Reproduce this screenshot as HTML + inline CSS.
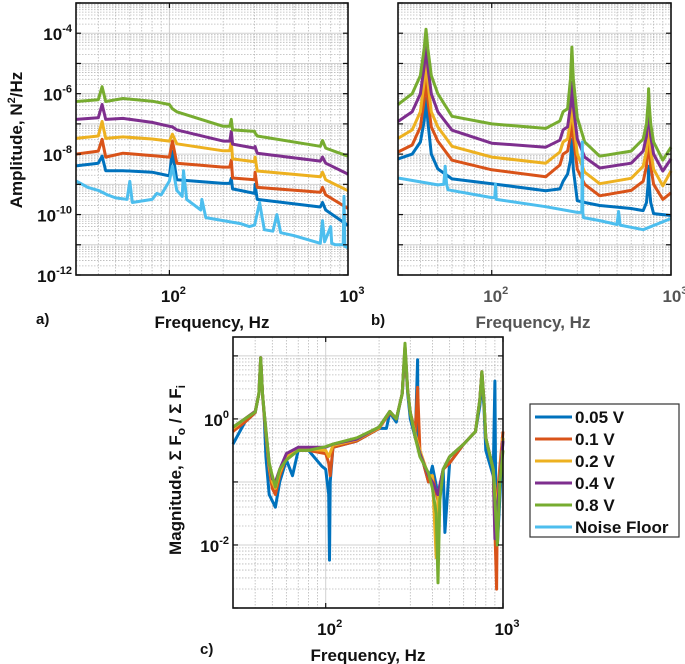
<!DOCTYPE html>
<html><head><meta charset="utf-8"><style>
body{margin:0;background:#fff}
svg{display:block}
text{font-family:"Liberation Sans",sans-serif;font-weight:bold;fill:#111}
</style></head><body>
<svg id="fig" width="685" height="664" viewBox="0 0 685 664">
<g id="gridlayer"></g>
<g id="datalayer"></g>
<g id="axlayer"></g>
<text x="22" y="140" font-size="17" text-anchor="middle" transform="rotate(-90 22 140)">Amplitude, N<tspan dy="-7" font-size="11">2</tspan><tspan dy="7">/Hz</tspan></text>
<text x="212" y="328" font-size="17" text-anchor="middle">Frequency, Hz</text>
<text x="533" y="328" font-size="17" text-anchor="middle" style="fill:#555">Frequency, Hz</text>
<text x="368" y="661" font-size="17" text-anchor="middle">Frequency, Hz</text>
<text x="36" y="324" font-size="15">a)</text>
<text x="371" y="325" font-size="15">b)</text>
<text x="200" y="654" font-size="15">c)</text>
<text x="181" y="470" font-size="17" text-anchor="middle" transform="rotate(-90 181 470)">Magnitude, Σ F<tspan dy="4" font-size="12">o</tspan><tspan dy="-4"> / Σ F</tspan><tspan dy="4" font-size="12">i</tspan></text>
<g>
<rect x="530" y="404" width="149" height="133" fill="#fff" stroke="#333" stroke-width="1.2"/>
<g id="legrows"></g>
</g>
</svg>
<script>
// ---------- data (frequencies in Hz, values as log10) ----------
const colors=["#0072BD","#D95319","#EDB120","#7E2F8E","#77AC30","#4DBEEE"];
const seriesNames=["0.05 V","0.1 V","0.2 V","0.4 V","0.8 V","Noise Floor"];
// Panel a: PSD log10 amplitude
const aBlueF=[30,40,42,44,55,80,100,104,110,200,218,222,226,300,302,310,700,720,750,1000];
const aBlueV=[-8.39,-8.3,-8.07,-8.55,-8.55,-8.6,-8.72,-7.9,-8.85,-8.97,-8.97,-8.8,-9.15,-9.3,-9.0,-9.5,-9.75,-9.6,-9.85,-10.36];
const aOrangeF=[30,40,42,44,55,80,100,104,110,200,218,222,226,300,302,310,700,720,750,1000];
const aOrangeV=[-8.0,-7.9,-7.51,-8.1,-7.97,-8.05,-8.1,-7.57,-8.3,-8.43,-8.43,-8.2,-8.79,-8.85,-8.6,-9.1,-9.26,-9.1,-9.35,-9.8];
const aYellowF=[30,40,42,44,55,80,100,104,110,200,218,222,226,300,302,310,700,720,750,1000];
const aYellowV=[-7.48,-7.4,-6.92,-7.48,-7.43,-7.5,-7.57,-7.34,-7.66,-7.89,-7.89,-7.6,-8.16,-8.25,-8.1,-8.56,-8.75,-8.6,-8.85,-9.21];
const aPurpleF=[30,40,42,44,55,80,100,104,110,200,218,222,226,300,302,310,700,720,750,1000];
const aPurpleV=[-6.85,-6.8,-6.36,-6.85,-6.82,-6.95,-7.08,-7.1,-7.2,-7.57,-7.57,-7.25,-7.67,-7.8,-7.75,-7.97,-8.23,-8.1,-8.3,-8.66];
const aGreenF=[30,40,42,44,55,80,100,104,110,200,218,222,226,300,302,310,700,720,750,1000];
const aGreenV=[-6.26,-6.2,-5.77,-6.26,-6.16,-6.25,-6.36,-6.5,-6.6,-7.08,-7.08,-6.85,-7.2,-7.25,-7.3,-7.4,-7.74,-7.55,-7.8,-8.07];
const aNoiseF=[30,35,40,45,50,58,60,62,70,80,85,90,100,104,110,118,120,125,150,152,160,200,250,280,300,320,340,380,400,420,500,700,720,740,800,810,850,940,950,960,1000];
const aNoiseV=[-8.89,-9.1,-9.2,-9.35,-9.45,-9.5,-8.9,-9.6,-9.55,-9.5,-9.3,-9.35,-8.89,-8.4,-9.2,-9.4,-8.55,-9.5,-9.85,-9.5,-10.1,-10.2,-10.3,-10.4,-10.35,-9.6,-10.5,-10.55,-10.0,-10.6,-10.7,-10.95,-10.2,-10.9,-10.4,-10.95,-11.0,-11.0,-9.4,-11.05,-11.1];
// Panel b: PSD log10 amplitude
const bFreq=[30,36,40,42,43,44,46,50,60,100,200,240,250,265,275,280,285,300,330,400,600,700,730,745,750,755,770,800,900,1000];
const bBlueV=[-8.16,-8.0,-7.6,-6.9,-6.16,-6.9,-8.0,-8.49,-8.82,-8.98,-9.21,-9.15,-8.9,-8.66,-8.2,-7.52,-8.5,-9.54,-9.6,-9.7,-9.8,-9.87,-9.6,-9.0,-8.4,-9.0,-9.6,-9.97,-10.0,-10.03];
const bOrangeV=[-7.93,-7.7,-7.1,-6.2,-5.44,-6.2,-7.1,-7.57,-8.2,-8.52,-8.75,-8.36,-8.0,-7.9,-7.4,-6.75,-7.4,-8.5,-9.0,-9.38,-9.2,-8.9,-8.4,-7.7,-7.0,-7.7,-8.4,-9.0,-9.5,-9.28];
const bYellowV=[-7.48,-7.2,-6.6,-5.6,-4.85,-5.6,-6.6,-7.1,-7.74,-8.1,-8.3,-7.93,-7.6,-7.5,-6.9,-6.2,-6.9,-8.0,-8.6,-8.98,-8.8,-8.4,-7.9,-7.2,-6.57,-7.2,-7.9,-8.5,-9.05,-8.56];
const bPurpleV=[-6.92,-6.6,-6.0,-5.1,-4.39,-5.1,-6.0,-6.6,-7.21,-7.64,-7.77,-7.54,-7.2,-7.1,-6.4,-5.62,-6.4,-7.5,-8.1,-8.46,-8.3,-7.9,-7.4,-6.7,-6.0,-6.7,-7.4,-8.0,-8.56,-8.16];
const bGreenV=[-6.36,-6.0,-5.4,-4.5,-3.87,-4.5,-5.4,-6.0,-6.75,-7.0,-7.15,-6.9,-6.6,-6.5,-5.5,-4.46,-5.5,-6.8,-7.6,-8.07,-7.9,-7.5,-7.0,-6.3,-5.84,-6.3,-7.0,-7.6,-8.2,-7.77];
const bNoiseF=[30,50,54,55,56,57,100,104,105,106,200,300,318,320,322,325,400,500,510,520,700,1000];
const bNoiseV=[-8.79,-9.02,-9.0,-8.4,-9.0,-9.18,-9.44,-9.44,-9.0,-9.5,-9.74,-9.93,-9.93,-7.6,-9.93,-10.1,-10.2,-10.33,-9.9,-10.35,-10.5,-10.13];
// Panel c: transfer magnitude log10
const cBlueF=[30,35,40,42,43,44,45,46,48,50,52,55,60,65,70,80,95,100,104,105,106,110,150,200,220,230,250,260,270,280,290,300,320,330,332,340,380,400,430,460,470,500,600,700,740,760,780,800,880,900,910,930,1000];
const cBlueV=[-0.4,-0.05,0.1,0.4,0.97,0.4,0.05,-0.6,-1.2,-1.3,-1.4,-1.0,-0.65,-0.9,-0.5,-0.5,-0.75,-0.8,-1.2,-2.24,-1.0,-0.45,-0.35,-0.15,-0.15,0.1,-0.05,0.2,0.4,1.1,0.4,0.0,-0.3,0.94,-0.4,-0.5,-1.0,-0.75,-1.2,-0.8,-1.8,-0.7,-0.4,-0.2,0.2,0.6,0.2,-0.5,-0.9,0.6,-1.2,-2.0,-0.3];
const cOrangeF=[30,35,40,42,43,44,45,48,50,52,55,60,70,80,100,104,106,110,150,200,230,250,260,270,280,290,300,320,330,340,380,400,430,460,500,600,700,740,760,780,800,880,920,930,1000];
const cOrangeV=[-0.2,-0.05,0.1,0.4,0.97,0.4,0.05,-0.8,-1.1,-1.2,-0.9,-0.6,-0.5,-0.5,-0.55,-0.7,-0.9,-0.45,-0.35,-0.15,0.1,0.0,0.2,0.4,1.1,0.45,0.1,-0.2,0.5,-0.5,-1.0,-0.9,-1.3,-0.8,-0.7,-0.4,-0.2,0.3,0.75,0.3,-0.3,-0.8,-2.7,-1.2,-0.2];
const cYellowF=[30,35,40,42,43,44,45,48,50,52,55,60,70,80,100,104,110,150,200,230,250,260,270,280,290,300,320,340,380,400,420,430,460,500,600,700,740,760,780,800,880,920,1000];
const cYellowV=[-0.15,0.0,0.12,0.4,0.97,0.4,0.1,-0.75,-1.0,-1.1,-0.85,-0.6,-0.48,-0.48,-0.5,-0.6,-0.42,-0.33,-0.14,0.12,0.0,0.2,0.4,1.15,0.45,0.1,-0.25,-0.5,-0.9,-0.9,-2.2,-1.2,-0.8,-0.6,-0.4,-0.2,0.3,0.75,0.3,-0.3,-0.8,-1.5,-0.3];
const cPurpleF=[30,35,40,42,43,44,45,48,50,52,55,60,70,80,100,110,150,200,230,250,260,270,280,290,300,320,340,380,400,430,460,500,600,700,740,760,780,800,880,900,1000];
const cPurpleV=[-0.13,0.0,0.12,0.4,0.97,0.4,0.1,-0.7,-0.95,-1.0,-0.8,-0.55,-0.45,-0.45,-0.45,-0.4,-0.32,-0.13,0.12,0.0,0.2,0.4,1.15,0.45,0.1,-0.3,-0.55,-0.9,-1.0,-1.2,-0.8,-0.6,-0.4,-0.2,0.3,0.75,0.3,-0.3,-0.8,-1.9,-0.35];
const cGreenF=[30,35,40,42,43,44,45,48,50,52,55,60,70,80,100,110,150,200,230,250,260,270,280,290,300,320,340,380,400,420,430,440,460,500,600,700,740,760,780,800,880,930,960,1000];
const cGreenV=[-0.13,0.0,0.11,0.4,0.97,0.4,0.1,-0.7,-0.9,-1.08,-0.8,-0.65,-0.5,-0.5,-0.44,-0.4,-0.3,-0.13,0.12,0.0,0.2,0.4,1.2,0.45,0.1,-0.3,-0.6,-0.86,-1.1,-1.5,-2.6,-1.3,-0.8,-0.6,-0.4,-0.2,0.3,0.75,0.3,-0.3,-0.8,-2.0,-1.0,-0.5];
// tick labels
const psdTickExp=[-12,-10,-8,-6,-4];
const tfTickExp=[-2,0];
const xTickExp=[2,3];

// ---------- axis helpers ----------
const NS="http://www.w3.org/2000/svg";
function mk(box,ylo,yhi){
  const xlo=Math.log10(30),xhi=3;
  return {box,ylo,yhi,
    x:f=>box.l+(Math.log10(f)-xlo)/(xhi-xlo)*(box.r-box.l),
    y:v=>box.b-(v-ylo)/(yhi-ylo)*(box.b-box.t)};
}
const A=mk({l:76,r:348,t:3,b:275},-12,-3);
const B=mk({l:398,r:671,t:3,b:275},-12,-3);
const C=mk({l:233,r:503,t:337,b:608},-3,1.3);
const gl=document.getElementById('gridlayer'),dl=document.getElementById('datalayer'),al=document.getElementById('axlayer');
function el(tag,attrs,parent){const e=document.createElementNS(NS,tag);for(const k in attrs)e.setAttribute(k,attrs[k]);parent.appendChild(e);return e;}

function grid(ax,id){
  const b=ax.box;
  el('rect',{x:b.l,y:b.t,width:b.r-b.l,height:b.b-b.t,fill:'#fff'},gl);
  for(let d=1;d<=3;d++)for(let m=1;m<=9;m++){
    const f=m*Math.pow(10,d);if(f<30||f>1000)continue;
    const x=ax.x(f);
    const ln=el('line',{x1:x,x2:x,y1:b.t,y2:b.b,stroke:m==1?'#d0d0d0':'#b8b8b8','stroke-width':m==1?1:0.8,'stroke-dasharray':m==1?'':'1.5,1.5'},gl);
    
    
  }
  for(let d=Math.floor(ax.ylo);d<Math.ceil(ax.yhi)+1;d++)for(let m=1;m<=9;m++){
    const v=d+Math.log10(m);if(v<ax.ylo||v>ax.yhi)continue;
    const y=ax.y(v);
    const ln=el('line',{x1:b.l,x2:b.r,y1:y,y2:y,stroke:m==1?'#d0d0d0':'#b8b8b8','stroke-width':m==1?1:0.8,'stroke-dasharray':m==1?'':'1.5,1.5'},gl);
    
    
  }
}
function frame(ax,id,yt,showY,xcol){
  const b=ax.box;
  const r=el('rect',{x:b.l,y:b.t,width:b.r-b.l,height:b.b-b.t,fill:'none',stroke:'#111','stroke-width':1.6},al);
  
  
  for(let d=Math.floor(ax.ylo);d<=ax.yhi;d++){
    const y=ax.y(d);
    el('line',{x1:b.l,x2:b.l+5,y1:y,y2:y,stroke:'#111','stroke-width':1.2},al);
    el('line',{x1:b.r,x2:b.r-5,y1:y,y2:y,stroke:'#111','stroke-width':1.2},al);
  }
  if(showY)yt.forEach(e=>{
    const t=el('text',{x:b.l-4,y:ax.y(e)+7,'font-size':17,'text-anchor':'end'},al);
    
    
    t.innerHTML='10<tspan dy="-8" font-size="11">'+e+'</tspan>';
  });
  xTickExp.forEach(e=>{
    const x=ax.x(Math.pow(10,e));
    el('line',{x1:x,x2:x,y1:b.b,y2:b.b-5,stroke:'#111','stroke-width':1.2},al);
    el('line',{x1:x,x2:x,y1:b.t,y2:b.t+5,stroke:'#111','stroke-width':1.2},al);
    const t=el('text',{x:x+4,y:b.b+27,'font-size':17,'text-anchor':'middle'},al);
    if(xcol)t.setAttribute('style','fill:'+xcol);
    
    
    t.innerHTML='10<tspan dy="-8" font-size="11">'+e+'</tspan>';
  });
}
function line(ax,F,V,col,name){
  const d=F.map((f,i)=>(i?'L':'M')+ax.x(f).toFixed(1)+','+ax.y(V[i]).toFixed(1)).join('');
  const p=el('path',{d:d,fill:'none',stroke:col,'stroke-width':3,'stroke-linejoin':'round'},dl);
  
  
}
grid(A,'panel-a');grid(B,'panel-b');grid(C,'panel-c');
const aS=[[aBlueF,aBlueV],[aOrangeF,aOrangeV],[aYellowF,aYellowV],[aPurpleF,aPurpleV],[aGreenF,aGreenV],[aNoiseF,aNoiseV]];
const bS=[[bFreq,bBlueV],[bFreq,bOrangeV],[bFreq,bYellowV],[bFreq,bPurpleV],[bFreq,bGreenV],[bNoiseF,bNoiseV]];
const cS=[[cBlueF,cBlueV],[cOrangeF,cOrangeV],[cYellowF,cYellowV],[cPurpleF,cPurpleV],[cGreenF,cGreenV]];
aS.forEach((s,i)=>line(A,s[0],s[1],colors[i],'panel-a-series-'+i));
bS.forEach((s,i)=>line(B,s[0],s[1],colors[i],'panel-b-series-'+i));
cS.forEach((s,i)=>line(C,s[0],s[1],colors[i],'panel-c-series-'+i));
frame(A,'panel-a',psdTickExp,true);
frame(B,'panel-b',psdTickExp,false,'#555');
frame(C,'panel-c',tfTickExp,true);
const lr=document.getElementById('legrows');
seriesNames.forEach((n,i)=>{
  const y=417+i*22;
  const g=el('g',{},lr);
  
  
  el('line',{x1:535,x2:572,y1:y,y2:y,stroke:colors[i],'stroke-width':3},g);
  const t=el('text',{x:575,y:y+6,'font-size':17},g);
  t.textContent=n;
});
</script>
</body></html>
